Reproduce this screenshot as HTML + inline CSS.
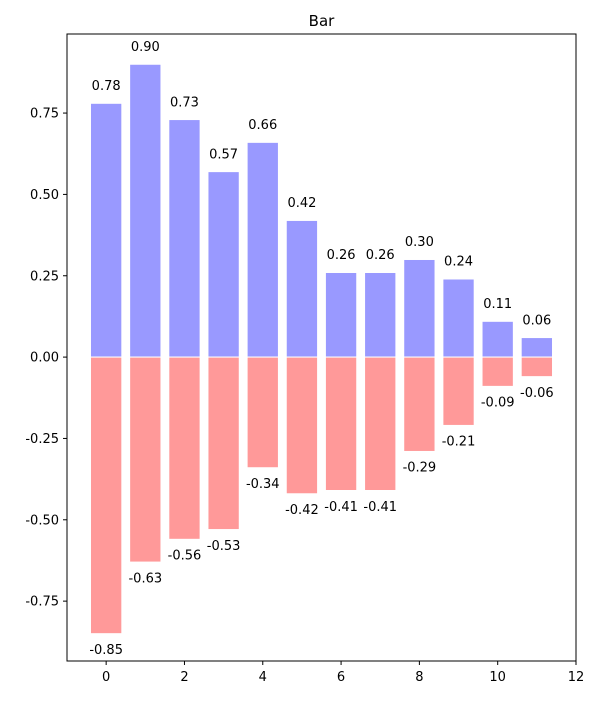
<!DOCTYPE html>
<html><head><meta charset="utf-8"><style>
body{margin:0;background:#fff;}
svg text{font-family:"DejaVu Sans","Liberation Sans",sans-serif;font-size:13px;fill:#000;}
</style></head><body>
<svg width="600" height="700" id="c">
<text x="321.5" y="26" text-anchor="middle" style="font-size:15px">Bar</text>
</svg>
<script>
const categories=[0,1,2,3,4,5,6,7,8,9,10,11];
const positiveValues=[0.78,0.90,0.73,0.57,0.66,0.42,0.26,0.26,0.30,0.24,0.11,0.06];
const negativeValues=[-0.85,-0.63,-0.56,-0.53,-0.34,-0.42,-0.41,-0.41,-0.29,-0.21,-0.09,-0.06];
const xTicks=[0,2,4,6,8,10,12];
const yTicks=[-0.75,-0.5,-0.25,0,0.25,0.5,0.75];
const L=67,R=576,T=34,B=661,xmin=-1,xmax=12,ymin=-0.934,ymax=0.993;
const X=v=>L+(v-xmin)/(xmax-xmin)*(R-L);
const Y=v=>B-(v-ymin)/(ymax-ymin)*(B-T);
const svg=document.getElementById('c');const NS='http://www.w3.org/2000/svg';
function mk(t,a,p){const e=document.createElementNS(NS,t);for(const k in a)e.setAttribute(k,a[k]);(p||svg).appendChild(e);return e;}
const bw=X(0.4)-X(-0.4);
categories.forEach((c,i)=>{
 const p=positiveValues[i],n=negativeValues[i];
 let r=mk('rect',{x:X(c)-bw/2,y:Y(p),width:bw,height:Y(0)-Y(p),fill:'#9999ff',stroke:'#fff','stroke-width':1});
 
 
 r=mk('rect',{x:X(c)-bw/2,y:Y(0),width:bw,height:Y(n)-Y(0),fill:'#ff9999',stroke:'#fff','stroke-width':1});
 
 
 let t=mk('text',{x:X(c),y:Y(p+0.05)+3,'text-anchor':'middle'});t.textContent=p.toFixed(2);
 
 
 t=mk('text',{x:X(c),y:Y(n-0.05)+4,'text-anchor':'middle'});t.textContent=n.toFixed(2);
 
 
});
const fr=mk('rect',{x:L,y:T,width:R-L,height:B-T,fill:'none',stroke:'#000','stroke-width':1});


xTicks.forEach(v=>{
 mk('line',{x1:X(v),x2:X(v),y1:B,y2:B+4,stroke:'#000'});
 const t=mk('text',{x:X(v),y:B+20,'text-anchor':'middle'});t.textContent=v;
 
 
});
yTicks.forEach(v=>{
 mk('line',{x1:L-4,x2:L,y1:Y(v),y2:Y(v),stroke:'#000'});
 const t=mk('text',{x:L-8,y:Y(v)+4.5,'text-anchor':'end'});t.textContent=v.toFixed(2);
 
 
});
</script>
</body></html>
